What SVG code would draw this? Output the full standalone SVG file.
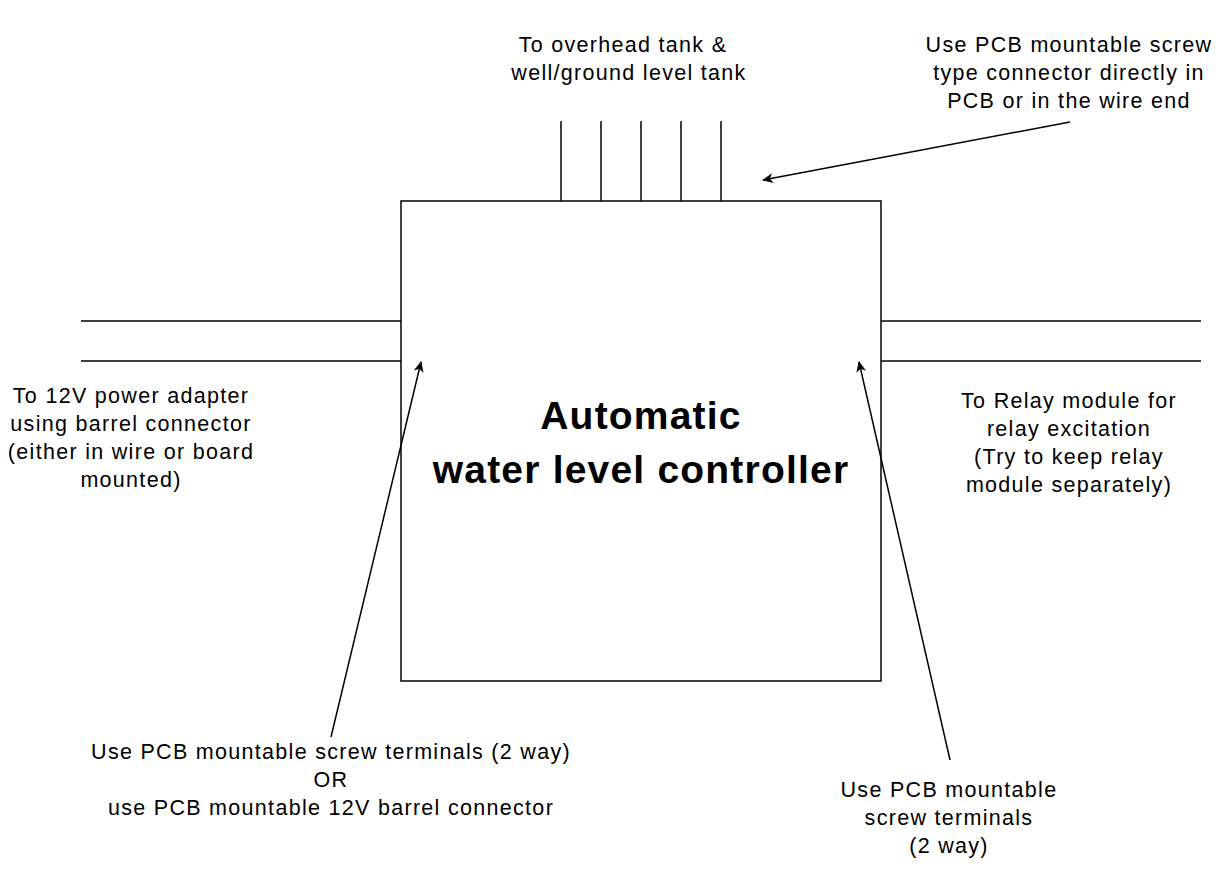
<svg xmlns="http://www.w3.org/2000/svg" width="1232" height="872" viewBox="0 0 1232 872">
<style>
text{font-family:"Liberation Sans",Arial,sans-serif;font-size:21.5px;letter-spacing:1.3px;fill:#000;text-anchor:middle}
.t{font-size:39px;font-weight:bold;letter-spacing:1.2px}
.l{stroke:#000;stroke-width:1.5;fill:none}
</style>
<defs><marker id="a" markerWidth="12" markerHeight="12" refX="10" refY="6" orient="auto" markerUnits="userSpaceOnUse"><path d="M0,1 L11,6 L0,11 L3,6 Z" fill="#000"/></marker></defs>
<rect width="1232" height="872" fill="#fff"/>
<g id="controller"><rect x="401" y="201" width="480" height="480" class="l"/>
<text class="t" x="641" y="429">Automatic</text><text class="t" x="641" y="483">water level controller</text></g>
<g id="connectors">
<path class="l" d="M561,121V201M601,121V201M641,121V201M681,121V201M721,121V201M81,321H401M81,361H401M881,321H1201M881,361H1201"/>
<path class="l" d="M1070,122L763,180" marker-end="url(#a)"/>
<path class="l" d="M331,737L421,362" marker-end="url(#a)"/>
<path class="l" d="M950,760L859,362" marker-end="url(#a)"/>
</g>
<g id="labels">
<text x="623" y="52">To overhead tank &amp;</text><text x="629" y="80">well/ground level tank</text>
<text x="1069" y="52">Use PCB mountable screw</text><text x="1069" y="80">type connector directly in</text><text x="1069" y="108">PCB or in the wire end</text>
<text x="131" y="403">To 12V power adapter</text><text x="131" y="431">using barrel connector</text><text x="131" y="459">(either in wire or board</text><text x="131" y="487">mounted)</text>
<text x="1069" y="408">To Relay module for</text><text x="1069" y="436">relay excitation</text><text x="1069" y="464">(Try to keep relay</text><text x="1069" y="492">module separately)</text>
<text x="331" y="759">Use PCB mountable screw terminals (2 way)</text><text x="331" y="787">OR</text><text x="331" y="815">use PCB mountable 12V barrel connector</text>
<text x="949" y="797">Use PCB mountable</text><text x="949" y="825">screw terminals</text><text x="949" y="853">(2 way)</text>
</g>
</svg>
